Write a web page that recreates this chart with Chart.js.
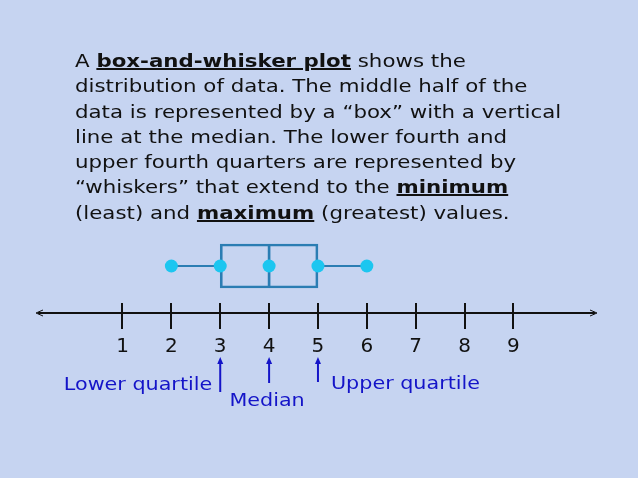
<!DOCTYPE html>
<html>
<head>
<meta charset="utf-8">
<script src="https://cdn.jsdelivr.net/npm/chart.js@4"></script>
<style>
  html, body { margin: 0; padding: 0; }
  body { width: 638px; height: 478px; overflow: hidden; background: #c6d4f1; position: relative;
    font-family: "DejaVu Sans", sans-serif; }
  #wrap { position: absolute; left: 0; top: 0; width: 638px; height: 478px; }
  #para { position: absolute; left: 75px; top: 48px; margin: 0; white-space: nowrap;
    font-size: 18px; line-height: 25.3px; color: #111; z-index: 2;
    transform: scaleX(1.185); transform-origin: 0 0; }
  #para b { text-decoration: underline; text-decoration-thickness: 2px; }
</style>
</head>
<body>
<p id="para">A <b>box-and-whisker plot</b> shows the<br>distribution of data. The middle half of the<br>data is represented by a “box” with a vertical<br>line at the median. The lower fourth and<br>upper fourth quarters are represented by<br>“whiskers” that extend to the <b>minimum</b><br>(least) and <b>maximum</b> (greatest) values.</p>
<div id="wrap"><canvas id="c" width="638" height="478"></canvas></div>
<script>
// ---- data ----
const categories = ['data'];
const minValue = 2;
const lowerQuartile = 3;
const medianValue = 4;
const upperQuartile = 5;
const maxValue = 6;
const tickValues = [1, 2, 3, 4, 5, 6, 7, 8, 9];
const annotationLabels = ['Lower quartile', 'Median', 'Upper quartile'];
const annotationValues = [lowerQuartile, medianValue, upperQuartile];

const boxColor = '#2b7db3';
const dotColor = '#1cc6f0';
const noteColor = '#1414c8';
const fontFamily = '"DejaVu Sans", sans-serif';
const textStretch = 1.15;

const numberLinePlugin = {
  id: 'numberLine',
  afterDraw(chart) {
    const ctx = chart.ctx;
    const area = chart.chartArea;
    const xs = chart.scales.x;
    const y = area.bottom + 10;
    ctx.save();
    ctx.strokeStyle = '#111';
    ctx.lineWidth = 2;
    ctx.beginPath();
    ctx.moveTo(area.left + 2, y);
    ctx.lineTo(area.right - 2, y);
    ctx.stroke();
    ctx.lineWidth = 1;
    ctx.beginPath();
    ctx.moveTo(area.left + 7, y - 3); ctx.lineTo(area.left, y); ctx.lineTo(area.left + 7, y + 3);
    ctx.moveTo(area.right - 7, y - 3); ctx.lineTo(area.right, y); ctx.lineTo(area.right - 7, y + 3);
    ctx.stroke();
    ctx.strokeStyle = noteColor;
    ctx.fillStyle = noteColor;
    ctx.font = '18px ' + fontFamily;
    const tipY = area.bottom + 54;
    const ends = [area.bottom + 89, area.bottom + 80, area.bottom + 79];
    const drawText = (text, x, yy, align) => {
      ctx.save();
      ctx.translate(x, yy);
      ctx.scale(textStretch, 1);
      ctx.textAlign = align;
      ctx.textBaseline = 'middle';
      ctx.fillText(text, 0, 0);
      ctx.restore();
    };
    annotationValues.forEach((v, i) => {
      const px = xs.getPixelForValue(v);
      ctx.lineWidth = 2;
      ctx.beginPath();
      ctx.moveTo(px, tipY + 4);
      ctx.lineTo(px, ends[i]);
      ctx.stroke();
      ctx.beginPath();
      ctx.moveTo(px, tipY);
      ctx.lineTo(px - 3, tipY + 7);
      ctx.lineTo(px + 3, tipY + 7);
      ctx.closePath();
      ctx.fill();
      if (i === 0) drawText(annotationLabels[i], px - 8, area.bottom + 82, 'right');
      else if (i === 1) drawText(annotationLabels[i], px - 2, area.bottom + 98, 'center');
      else drawText(annotationLabels[i], px + 13, area.bottom + 81, 'left');
    });
    ctx.restore();
  }
};

new Chart(document.getElementById('c'), {
  type: 'bar',
  data: {
    labels: categories,
    datasets: [
      {
        type: 'bar', label: 'lower box', data: [[lowerQuartile, medianValue]],
        backgroundColor: 'rgba(0,0,0,0)', borderColor: boxColor,
        borderWidth: { left: 2, top: 2, bottom: 2, right: 1 },
        borderSkipped: false, barThickness: 44, grouped: false, order: 3
      },
      {
        type: 'bar', label: 'upper box', data: [[medianValue, upperQuartile]],
        backgroundColor: 'rgba(0,0,0,0)', borderColor: boxColor,
        borderWidth: { left: 1, top: 2, bottom: 2, right: 2 },
        borderSkipped: false, barThickness: 44, grouped: false, order: 3
      },
      {
        type: 'line', label: 'lower whisker',
        data: [{ x: minValue, y: categories[0] }, { x: lowerQuartile, y: categories[0] }],
        borderColor: boxColor, borderWidth: 2, pointRadius: 0, fill: false, order: 2
      },
      {
        type: 'line', label: 'upper whisker',
        data: [{ x: upperQuartile, y: categories[0] }, { x: maxValue, y: categories[0] }],
        borderColor: boxColor, borderWidth: 2, pointRadius: 0, fill: false, order: 2
      },
      {
        type: 'line', label: 'summary points', showLine: false,
        data: [minValue, lowerQuartile, medianValue, upperQuartile, maxValue].map(v => ({ x: v, y: categories[0] })),
        pointRadius: 6.5, pointBackgroundColor: dotColor, pointBorderWidth: 0,
        borderColor: dotColor, order: 1
      }
    ]
  },
  options: {
    indexAxis: 'y',
    responsive: false,
    animation: false,
    events: [],
    layout: { padding: { left: 36, right: 41, top: 229, bottom: 113 } },
    plugins: { legend: { display: false }, tooltip: { enabled: false }, title: { display: false } },
    scales: {
      x: {
        type: 'linear', min: -0.77, max: 10.71, offset: false, beginAtZero: false,
        afterBuildTicks(scale) { scale.ticks = tickValues.map(v => ({ value: v })); },
        grid: { drawOnChartArea: false, drawTicks: true, tickLength: 26, color: '#111', lineWidth: 2, offset: false },
        border: { display: false },
        ticks: { color: '#111', padding: 6, font: { family: fontFamily, size: 20 },
          maxRotation: 0, autoSkip: false, callback: v => String(v) }
      },
      y: {
        type: 'category', labels: categories, offset: true, display: false
      }
    }
  },
  plugins: [numberLinePlugin]
});
</script>
</body>
</html>
